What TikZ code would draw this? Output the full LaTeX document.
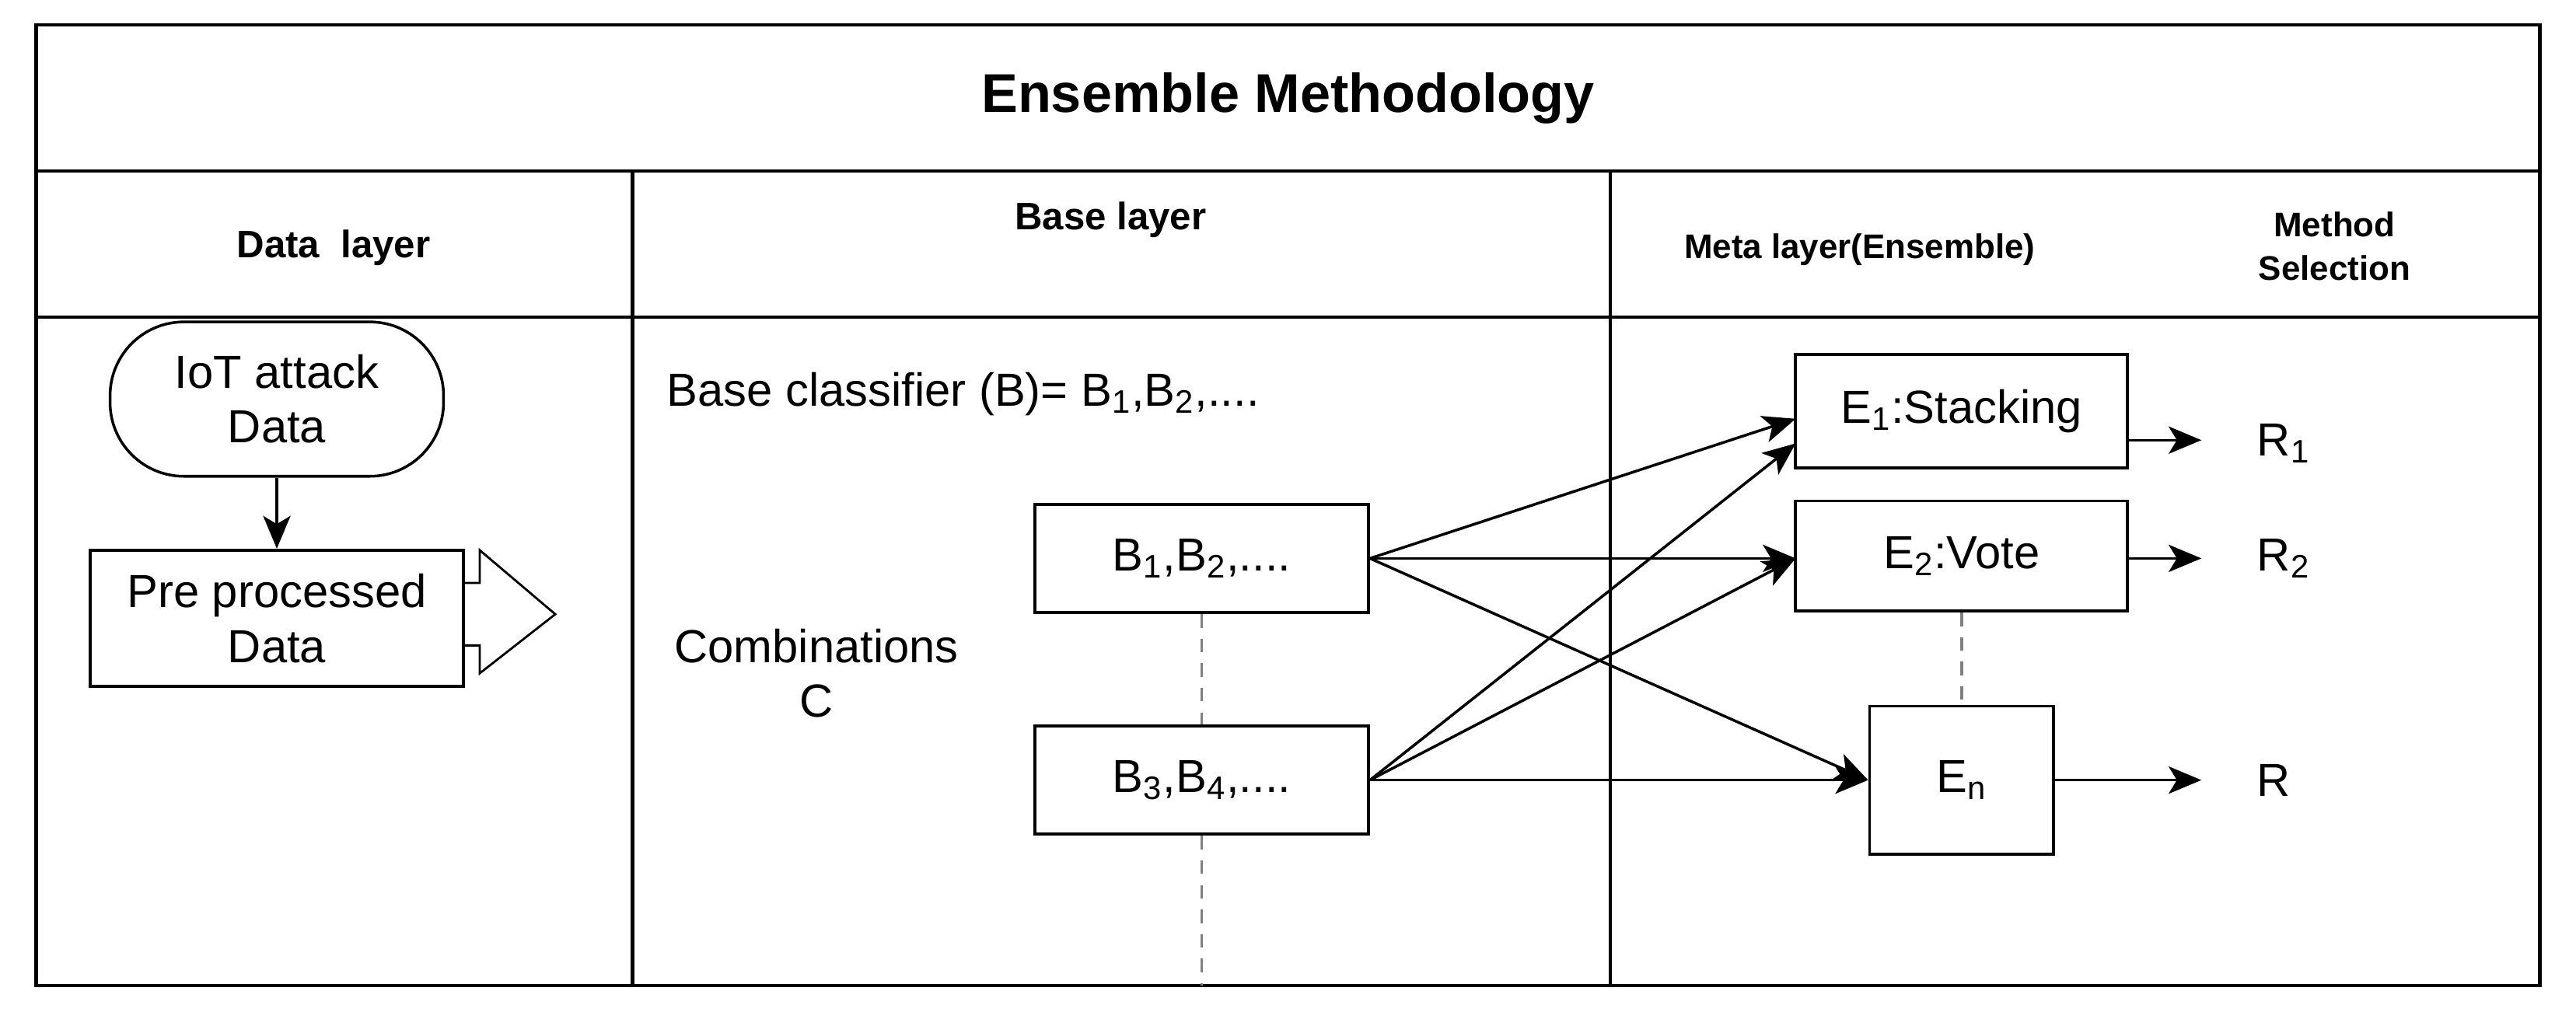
\documentclass[tikz,border=0pt]{standalone}
\usepackage{fontspec}
\setmainfont{Liberation Sans}
\usetikzlibrary{arrows.meta}
\begin{document}
\begin{tikzpicture}[x=0.02113cm,y=-0.02113cm,
  box/.style={draw,line width=1.1pt,font=\fontsize{17}{20}\selectfont,align=center,inner sep=0pt},
  arr/.style={-{Stealth[length=12pt,width=10pt,inset=3pt]},line width=1pt},
  hdr/.style={font=\bfseries\fontsize{14}{17}\selectfont,align=center},
  txt/.style={font=\fontsize{17}{20}\selectfont,align=center},
  dsh/.style={gray,line width=1pt,dash pattern=on 5pt off 4pt}]
\useasboundingbox (0,0) rectangle (1568,616);
% frame
\draw[line width=1.2pt] (22,15) rectangle (1546,600);
\draw[line width=1.2pt] (22,104) -- (1546,104);
\draw[line width=1.2pt] (22,193) -- (1546,193);
\draw[line width=1.2pt] (385,104) -- (385,600);
\draw[line width=1.2pt] (980,104) -- (980,600);
\node[font=\bfseries\fontsize{20}{24}\selectfont] (title) at (784,60) {Ensemble Methodology};
\node[hdr] (h1) at (203,151) {Data\ \ layer};
\node[hdr] (h2) at (676,134) {Base layer};
\node[hdr,font=\bfseries\fontsize{12.5}{15}\selectfont] (h3) at (1132,152) {Meta layer(Ensemble)};
\node[hdr,font=\bfseries\fontsize{12.5}{16}\selectfont] (h4) at (1421,150) {Method\\Selection};
% data layer
\node[box,line width=1pt,rounded corners=0.95cm,minimum width=203*0.02113cm,minimum height=94*0.02113cm] (iot) at (168.5,243) {IoT attack\\Data};
\node[box,minimum width=227*0.02113cm,minimum height=83*0.02113cm] (pre) at (168.5,376.5) {Pre processed\\Data};
\draw[arr] (iot.south) -- (pre.north);
\draw[line width=0.8pt] (282,355) -- (292,355) -- (292,335) -- (338,374) -- (292,410) -- (292,393) -- (282,393);
% base layer
\node[txt,anchor=west] (bc) at (400,240) {Base classifier (B)= B\textsubscript{1},B\textsubscript{2},....};
\node[txt] (comb) at (497,410) {Combinations\\C};
\node[box,minimum width=203*0.02113cm,minimum height=66*0.02113cm] (b12) at (731.5,340) {B\textsubscript{1},B\textsubscript{2},....};
\node[box,minimum width=203*0.02113cm,minimum height=66*0.02113cm] (b34) at (731.5,475) {B\textsubscript{3},B\textsubscript{4},....};
\coordinate (bend) at (731.5,600);
\draw[dsh] (b12.south) -- (b34.north);
\draw[dsh] (b34.south) -- (bend);
% meta
\node[box,minimum width=202*0.02113cm,minimum height=69*0.02113cm] (e1) at (1194,250.5) {E\textsubscript{1}:Stacking};
\node[box,minimum width=202*0.02113cm,minimum height=67*0.02113cm] (e2) at (1194,338.5) {E\textsubscript{2}:Vote};
\node[box,minimum width=112*0.02113cm,minimum height=90*0.02113cm] (en) at (1194,475) {E\textsubscript{n}};
\draw[dsh] (e2.south) -- (en.north);
\coordinate (e1a) at (1093,255);
\coordinate (e1b) at (1093,270);
\coordinate (e2a) at (1093,340);
\draw[arr] (b12.east) -- (e1a);
\draw[arr] (b12.east) -- (e2a);
\draw[arr] (b12.east) -- (en.west);
\draw[arr] (b34.east) -- (e1b);
\draw[arr] (b34.east) -- (e2a);
\draw[arr] (b34.east) -- (en.west);
% results
\node[txt,anchor=west] (r1) at (1368,270) {R\textsubscript{1}};
\node[txt,anchor=west] (r2) at (1368,340) {R\textsubscript{2}};
\node[txt,anchor=west] (r) at (1368,475) {R};
\coordinate (t1) at (1340,268);
\coordinate (t2) at (1340,340);
\coordinate (t3) at (1340,475);
\draw[arr] (e1.east |- t1) -- (t1);
\draw[arr] (e2.east |- t2) -- (t2);
\draw[arr] (en.east) -- (t3);
\end{tikzpicture}
\end{document}
